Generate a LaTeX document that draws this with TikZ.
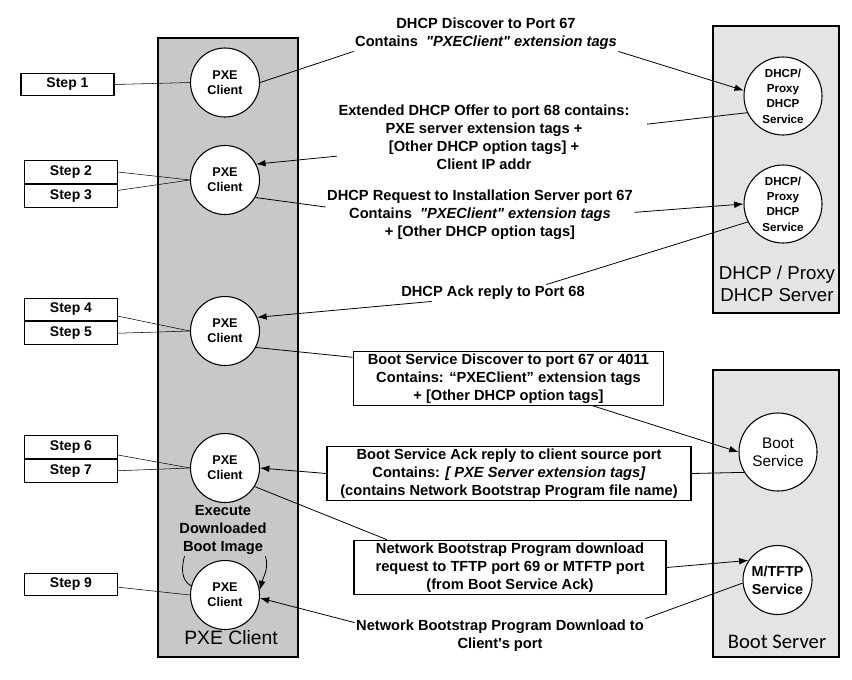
\documentclass[tikz,border=0pt]{standalone}
\usepackage{fontspec}
\setmainfont{Liberation Sans}
\newfontfamily\bootfont{Carlito}
\usetikzlibrary{arrows.meta,positioning}
\definecolor{clientgray}{HTML}{C8C8C8}
\definecolor{servergray}{HTML}{E4E4E4}

\begin{document}
\begin{tikzpicture}[x=0.75pt,y=-0.75pt]
\tikzset{
    lane/.style={draw,line width=0.8pt},
    title/.style={align=center,inner sep=0pt,font=\fontsize{14.5}{16.5}\selectfont},
    client/.style={circle,draw,line width=0.8pt,fill=white,minimum size=51.75pt,inner sep=0pt,align=center,font=\fontsize{9.5}{11.25}\selectfont\bfseries},
    service/.style={circle,draw,line width=0.8pt,fill=white,minimum size=58.5pt,inner sep=0pt,align=center,font=\fontsize{8.7}{11.5}\selectfont\bfseries},
    stepbox/.style={draw,line width=0.8pt,fill=white,minimum width=69.75pt,minimum height=17pt,inner sep=0pt,font=\fontsize{10.5}{12}\selectfont\bfseries},
    msg/.style={align=center,inner sep=1pt,font=\fontsize{11}{13.5}\selectfont\bfseries},
    msgbox/.style={msg,draw,line width=0.8pt,fill=white},
    edge/.style={-{Latex[length=7pt,width=5pt]}}
}
\useasboundingbox (0,0) rectangle (852,679);
% lanes
\draw[lane,fill=clientgray] (158,38) rectangle (298,657);
\draw[lane,fill=servergray] (713,26) rectangle (839,313);
\draw[lane,fill=servergray] (713,370) rectangle (839,657);
\node[title] (clienttitle) at (231,638) {PXE Client};
\node[title,font=\fontsize{14}{16.5}\selectfont] (dhcptitle) at (777,284) {DHCP / Proxy\\DHCP Server};
\node[title,font=\bootfont\fontsize{15.5}{18}\selectfont] (boottitle) at (777,642) {Boot Server};
% client side
\node[client] (pxe1) at (225,82.5) {PXE\\Client};
\node[client] (pxe2) at (225,180) {PXE\\Client};
\node[client] (pxe3) at (225,331) {PXE\\Client};
\node[client] (pxe4) at (225,468) {PXE\\Client};
\node[client] (pxe5) at (225,595) {PXE\\Client};
\node[msg] (exec) at (223,530) {Execute\\Downloaded\\Boot Image};
% steps
\node[stepbox] (step1) at (67.5,84.5) {Step 1};
\node[stepbox] (step2) at (71,172) {Step 2};
\node[stepbox,below=0pt of step2] (step3) {Step 3};
\node[stepbox] (step4) at (71,309.5) {Step 4};
\node[stepbox,below=0pt of step4] (step5) {Step 5};
\node[stepbox] (step6) at (71,447) {Step 6};
\node[stepbox,below=0pt of step6] (step7) {Step 7};
\node[stepbox] (step9) at (71,584.5) {Step 9};
% server side
\node[service] (dhcp1) at (783,96) {DHCP/\\Proxy\\DHCP\\Service};
\node[service] (dhcp2) at (783,204) {DHCP/\\Proxy\\DHCP\\Service};
\node[service,font=\fontsize{11.5}{13.5}\selectfont] (bootsvc) at (778,452) {Boot\\Service};
\node[service,minimum size=51.75pt,font=\fontsize{10.8}{13.5}\selectfont\bfseries] (mtftp) at (777.5,580) {M/TFTP\\Service};
% messages
\node[msg] (discover) at (486,34) {DHCP Discover to Port 67\\Contains\ \ \textit{\textquotedbl PXEClient\textquotedbl\ extension tags}};
\node[msg] (offer) at (484,137.5) {Extended DHCP Offer to port 68 contains:\\PXE server extension tags +\\{[Other DHCP option tags] +}\\Client IP addr};
\node[msg] (request) at (480,215) {DHCP Request to Installation Server port 67\\Contains\ \ \textit{\textquotedbl PXEClient\textquotedbl\ extension tags}\\+ [Other DHCP option tags]};
\node[msg] (ack) at (493,293) {DHCP Ack reply to Port 68};
\node[msgbox,minimum width=233pt,minimum height=40pt] (bootdisc) at (508.5,378.5) {Boot Service Discover to port 67 or 4011\\Contains: “PXEClient” extension tags\\+ [Other DHCP option tags]};
\node[msgbox,minimum width=273pt,minimum height=41pt] (bootack) at (509,473.5) {Boot Service Ack reply to client source port\\Contains: \textit{[ PXE Server extension tags]}\\(contains Network Bootstrap Program file name)};
\node[msgbox,minimum width=234pt,minimum height=41pt] (nbpreq) at (510,567.5) {Network Bootstrap Program download\\request to TFTP port 69 or MTFTP port\\(from Boot Service Ack)};
\node[msg] (nbpdl) at (500,636) {Network Bootstrap Program Download to\\Client\textquotesingle s port};
% step lines
\draw (step1.east) -- (pxe1.west);
\draw (step2.east) -- (pxe2.west);
\draw ([yshift=4pt]step3.east) -- (pxe2.west);
\draw ([yshift=-5pt]step4.east) -- (pxe3.west);
\draw (step5.east) -- (pxe3.west);
\draw ([yshift=-6pt]step6.east) -- (pxe4.west);
\draw (step7.east) -- (pxe4.west);
\draw ([yshift=-2pt]step9.east) -- (pxe5.west);
% message lines
\begin{scope}[line width=0.6pt]
\draw (pxe1.east) -- (discover.south west);
\draw[edge] (discover.south east) -- (dhcp1.172);
\draw (dhcp1.205) -- ([xshift=12pt,yshift=10pt]offer.east);
\draw[edge] ([yshift=-14pt]offer.west) -- (pxe2.27);
\draw (pxe2.-30) -- ([yshift=6pt]request.west);
\draw[edge] ([yshift=2pt]request.east) -- (dhcp2.west);
\draw (dhcp2.207) -- ([xshift=40pt]ack.north);
\draw[edge] ([xshift=-46pt]ack.south) -- (pxe3.23);
\draw (pxe3.-28) -- ([yshift=-4.5pt]bootdisc.north west);
\draw[edge] ([xshift=63pt]bootdisc.south) -- (bootsvc.west);
\draw (bootsvc.211) -- (bootack.east);
\draw[edge] (bootack.west) -- (pxe4.east);
\draw (pxe4.-32) -- ([xshift=25pt]nbpreq.north west);
\draw[edge] (nbpreq.east) -- (mtftp.146);
\draw (mtftp.185) -- (nbpdl.north east);
\draw[edge] ([yshift=-3pt]nbpdl.north west) -- (pxe5.-5);
% execute loop
\draw ([xshift=5pt]exec.south west) to[out=-105,in=150] (pxe5.165);
\draw[edge] ([xshift=-2pt]exec.south east) to[out=-75,in=75] (pxe5.8);
\end{scope}
\end{tikzpicture}
\end{document}
